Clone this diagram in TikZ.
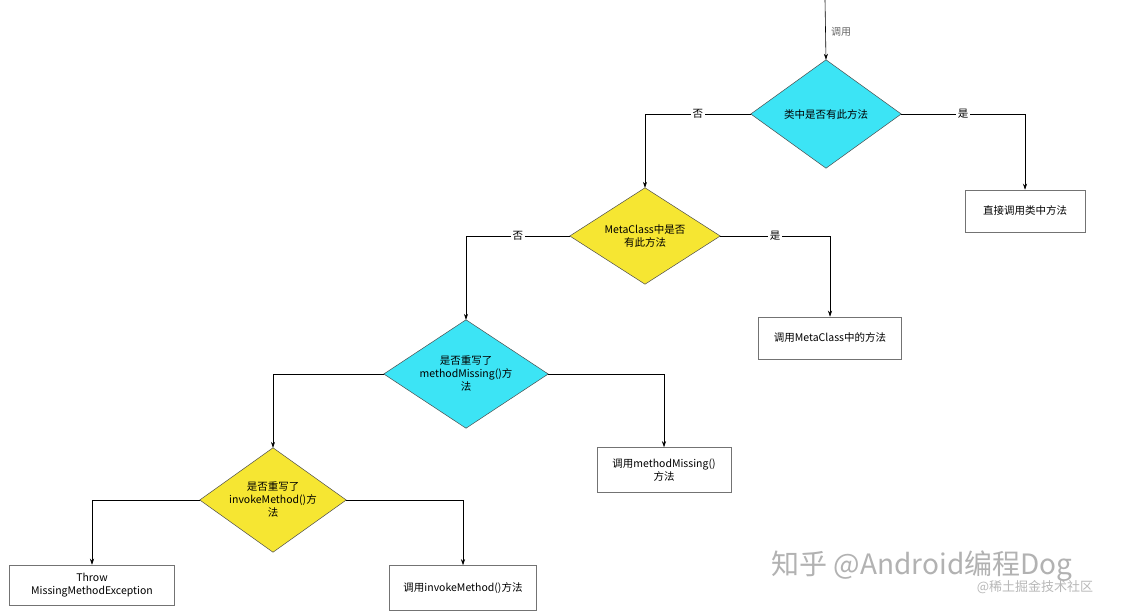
\documentclass[tikz,border=0pt]{standalone}
\usepackage{fontspec}
\setmainfont{Noto Sans CJK SC}
\usetikzlibrary{arrows.meta}
\definecolor{cy}{RGB}{60,228,245}
\definecolor{ye}{RGB}{246,230,50}
\begin{document}
\begin{tikzpicture}[x=1pt,y=-1pt,
 dia/.style 2 args={rectangle,inner sep=0pt,minimum width=#1,minimum height=#2,align=center,font=\fontsize{10.5}{13}\selectfont},
 dshape/.style={draw=black!70,line width=0.5pt},
 box/.style={draw=black!55,line width=0.5pt,fill=white,align=center,font=\fontsize{10.5}{13}\selectfont,minimum height=42,inner xsep=6pt},
 arr/.style={-{Stealth[length=6pt,width=4pt]},line width=0.6pt},
 lab/.style={fill=white,inner sep=2pt,font=\fontsize{10.5}{13}\selectfont}]
\useasboundingbox[fill=white] (0,0) rectangle (1133,615);
\coordinate (top) at (825,0);
\node[dia={150}{108}] (d1) at (826,114) {};
\node[dia={150}{96}] (d2) at (645,236) {};
\node[dia={164}{108}] (d3) at (466,374) {};
\node[dia={146}{104}] (d4) at (273,500) {};
\fill[cy] (d1.north)--(d1.east)--(d1.south)--(d1.west)--cycle;
\fill[ye] (d2.north)--(d2.east)--(d2.south)--(d2.west)--cycle;
\fill[cy] (d3.north)--(d3.east)--(d3.south)--(d3.west)--cycle;
\fill[ye] (d4.north)--(d4.east)--(d4.south)--(d4.west)--cycle;
\foreach \d in {d1,d2,d3,d4}{\draw[dshape] (\d.north)--(\d.east)--(\d.south)--(\d.west)--cycle;}
\node[align=center,font=\fontsize{10.5}{13}\selectfont] (t1) at (d1) {类中是否有此方法};
\node[align=center,font=\fontsize{10.5}{13}\selectfont] (t2) at (d2) {MetaClass中是否\\有此方法};
\node[align=center,font=\fontsize{10.5}{13}\selectfont] (t3) at (d3) {是否重写了\\methodMissing()方\\法};
\node[align=center,font=\fontsize{10.5}{13}\selectfont] (t4) at (d4) {是否重写了\\invokeMethod()方\\法};
\node[box,minimum width=120] (b1) at (1025,211) {直接调用类中方法};
\node[box,minimum width=143] (b2) at (830,338) {调用MetaClass中的方法};
\node[box,minimum width=134,minimum height=45] (b3) at (664,470) {调用methodMissing()\\方法};
\node[box,minimum width=165,minimum height=40] (b4) at (92,585) {Throw\\MissingMethodException};
\node[box,minimum width=147,minimum height=45] (b5) at (463,588) {调用invokeMethod()方法};
\draw[arr] (top) -- node[right,font=\fontsize{10}{12}\selectfont,text=black!60,xshift=2pt,pos=0.53]{调用} (d1.north);
\draw[arr] (d1.west) -- node[lab]{否} (d2.north |- d1.west) -- (d2.north);
\draw[arr] (d1.east) -- node[lab]{是} (b1.north |- d1.east) -- (b1.north);
\draw[arr] (d2.west) -- node[lab]{否} (d3.north |- d2.west) -- (d3.north);
\draw[arr] (d2.east) -- node[lab]{是} (b2.north |- d2.east) -- (b2.north);
\draw[arr] (d3.west) -- (d4.north |- d3.west) -- (d4.north);
\draw[arr] (d3.east) -- (b3.north |- d3.east) -- (b3.north);
\draw[arr] (d4.west) -- (b4.north |- d4.west) -- (b4.north);
\draw[arr] (d4.east) -- (b5.north |- d4.east) -- (b5.north);
\node[text=black!30,font=\fontsize{28}{30}\selectfont] (w1) at (922,566) {知乎 @Android编程Dog};
\node[text=black!28,font=\fontsize{13}{15}\selectfont] (w2) at (1035,587) {@稀土掘金技术社区};
\end{tikzpicture}
\end{document}
